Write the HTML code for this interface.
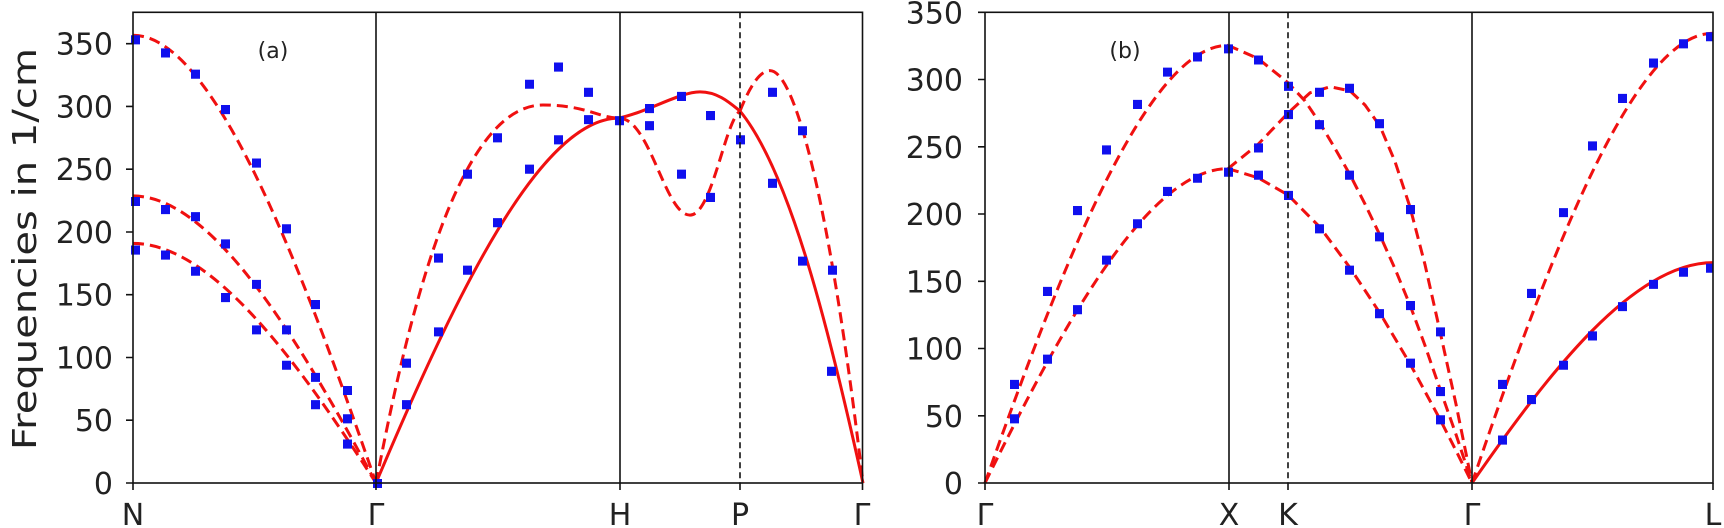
<!DOCTYPE html>
<html><head><meta charset="utf-8"><style>
html,body{margin:0;padding:0;background:#fff;}
svg{display:block;}
text{font-family:"DejaVu Sans","Liberation Sans",sans-serif;fill:#222;}
</style></head><body>
<svg width="1724" height="528" viewBox="0 0 1724 528" xmlns="http://www.w3.org/2000/svg">
<g transform="translate(0,12.3) scale(1,1.0107) translate(0,-12.3)">
<g fill="none" stroke="#f01010" stroke-width="3">
<g stroke-dasharray="11,6">
<path d="M133,35 C212,35 297,251 376,478"/>
<path d="M133,194 C212,194 297,332.5 376,478"/>
<path d="M133,241 C212,241 297,356.6 376,478"/>
<path d="M376,478 C405,330 455,104 543,104 C585,104 600,117 619,117"/>
<path d="M619,117 C650,117 665,213 690,213 C712,213 725,120 740,110"/>
<path d="M740,110 C750,85 760,70 770,70 C795,70 830,200 863,478"/>
<path d="M985,478 C1064,256 1149,45 1228,45"/>
<path d="M985,478 C1064,318.7 1149,167 1228,167"/>
<path d="M1228,167 L1258,143 L1288,112 L1310,92 L1330,86 L1350,90 L1365,104 L1380,125 L1395,160 L1410,205 L1425,262 L1440,328 L1456,400 L1472,478"/>
<path d="M1228,45 L1258,58 L1288,82 L1305,100 L1320,122 L1335,147 L1350,173 L1365,202 L1380,233 L1395,266 L1410,302 L1425,342 L1440,385 L1456,430 L1472,478"/>
<path d="M1228,167 L1258,176 L1288,193 L1320,225 L1350,265 L1380,310 L1410,360 L1440,415 L1456,446 L1472,478"/>
<path d="M1472,478 C1550.6,250 1634.4,33 1713,33"/>
</g>
<path d="M376,478 C455,293 540,117 619,117"/>
<path d="M619,117 C650,110 680,91 700,91 C718,91 730,102 740,110"/>
<path d="M740,110 C790,170 830,330 863,478"/>
<path d="M1472,478 C1550.6,366 1634.4,260 1713,260"/>
</g>
<g fill="#1010ee">
<path d="M131,35h9v9h-9zM161,48h9v9h-9zM191,69h9v9h-9zM221,104h9v9h-9zM252,157h9v9h-9zM282,222h9v9h-9zM311,297h9v9h-9zM343,382h9v9h-9z
M131,195h9v9h-9zM161,203h9v9h-9zM191,210h9v9h-9zM221,237h9v9h-9zM252,277h9v9h-9zM282,322h9v9h-9zM311,369h9v9h-9zM343,410h9v9h-9z
M131,243h9v9h-9zM161,248h9v9h-9zM191,264h9v9h-9zM221,290h9v9h-9zM252,322h9v9h-9zM282,357h9v9h-9zM311,396h9v9h-9zM343,435h9v9h-9z
M373,474h9v9h-9z
M402,355h9v9h-9zM402,396h9v9h-9zM434,251h9v9h-9zM434,324h9v9h-9zM463,168h9v9h-9zM463,263h9v9h-9zM493,132h9v9h-9zM493,216h9v9h-9zM525,79h9v9h-9zM525,163h9v9h-9zM554,62h9v9h-9zM554,134h9v9h-9zM584,87h9v9h-9zM584,114h9v9h-9zM615,115h9v9h-9zM645,103h9v9h-9zM645,120h9v9h-9zM677,91h9v9h-9zM677,168h9v9h-9zM706,110h9v9h-9zM706,191h9v9h-9zM736,134h9v9h-9zM768,87h9v9h-9zM768,177h9v9h-9zM798,125h9v9h-9zM798,254h9v9h-9zM828,263h9v9h-9zM827,363h9v9h-9z
M1010,376h9v9h-9zM1010,410h9v9h-9zM1043,284h9v9h-9zM1043,351h9v9h-9zM1073,204h9v9h-9zM1073,302h9v9h-9zM1102,144h9v9h-9zM1102,253h9v9h-9zM1133,99h9v9h-9zM1133,217h9v9h-9zM1163,67h9v9h-9zM1163,185h9v9h-9zM1193,52h9v9h-9zM1193,172h9v9h-9zM1224,44h9v9h-9zM1224,166h9v9h-9z
M1254,55h9v9h-9zM1254,142h9v9h-9zM1254,169h9v9h-9zM1284,81h9v9h-9zM1284,109h9v9h-9zM1284,189h9v9h-9zM1315,87h9v9h-9zM1315,119h9v9h-9zM1315,222h9v9h-9zM1345,83h9v9h-9zM1345,169h9v9h-9zM1345,263h9v9h-9zM1375,118h9v9h-9zM1375,230h9v9h-9zM1375,306h9v9h-9zM1406,203h9v9h-9zM1406,298h9v9h-9zM1406,355h9v9h-9zM1436,324h9v9h-9zM1436,383h9v9h-9zM1436,411h9v9h-9z
M1498,376h9v9h-9zM1498,431h9v9h-9zM1527,286h9v9h-9zM1527,391h9v9h-9zM1559,206h9v9h-9zM1559,357h9v9h-9zM1588,140h9v9h-9zM1588,328h9v9h-9zM1618,93h9v9h-9zM1618,299h9v9h-9zM1649,58h9v9h-9zM1649,277h9v9h-9zM1679,39h9v9h-9zM1679,265h9v9h-9zM1706,32h7v9h-7zM1706,261h7v9h-7z"/>
</g>
</g>
<g stroke="#111" stroke-width="1.6" fill="none">
<rect x="133" y="12.3" width="729.5" height="470.7"/>
<rect x="985" y="12.3" width="728" height="470.7"/>
<line x1="376" y1="12.3" x2="376" y2="483"/>
<line x1="620" y1="12.3" x2="620" y2="483"/>
<line x1="740" y1="12.3" x2="740" y2="483" stroke-dasharray="6,4"/>
<line x1="1229" y1="12.3" x2="1229" y2="483"/>
<line x1="1288" y1="12.3" x2="1288" y2="483" stroke-dasharray="6,4"/>
<line x1="1472" y1="12.3" x2="1472" y2="483"/>
<path d="M133,483v7M376,483v7M620,483v7M740,483v7M862.5,483v7M985,483v7M1229,483v7M1288,483v7M1472,483v7M1713,483v7"/>
<path d="M126,483h7M126,420.2h7M126,357.5h7M126,294.7h7M126,232h7M126,169.2h7M126,106.4h7M126,43.7h7"/>
<path d="M978,483h7M978,415.8h7M978,348.5h7M978,281.3h7M978,214h7M978,146.8h7M978,79.5h7M978,12.3h7"/>
</g>
<g font-size="30" text-anchor="end">
<text x="113" y="494">0</text><text x="113" y="431">50</text><text x="113" y="368.5">100</text><text x="113" y="305.7">150</text><text x="113" y="243">200</text><text x="113" y="180.2">250</text><text x="113" y="117.4">300</text><text x="113" y="54.7">350</text>
<text x="963" y="494">0</text><text x="963" y="426.8">50</text><text x="963" y="359.5">100</text><text x="963" y="292.3">150</text><text x="963" y="225">200</text><text x="963" y="157.8">250</text><text x="963" y="90.5">300</text><text x="963" y="23.3">350</text>
</g>
<g font-size="30" text-anchor="middle">
<text x="133" y="525">N</text><text x="376" y="525">Γ</text><text x="620" y="525">H</text><text x="740" y="525">P</text><text x="862" y="525">Γ</text>
<text x="985" y="525">Γ</text><text x="1229" y="525">X</text><text x="1288" y="525">K</text><text x="1472" y="525">Γ</text><text x="1713" y="525">L</text>
</g>
<text x="273" y="58" font-size="22" text-anchor="middle">(a)</text>
<text x="1125" y="58" font-size="22" text-anchor="middle">(b)</text>
<text transform="translate(36,249) rotate(-90)" font-size="33" text-anchor="middle" textLength="402" lengthAdjust="spacingAndGlyphs">Frequencies in 1/cm</text>
</svg>
</body></html>
